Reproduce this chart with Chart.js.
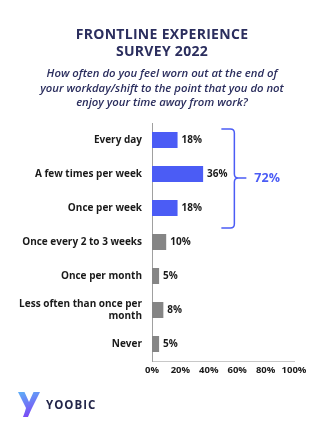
<!DOCTYPE html>
<html>
<head>
<meta charset="utf-8">
<script src="https://cdn.jsdelivr.net/npm/chart.js@4"></script>
<style>
  html, body { margin:0; padding:0; background:#fff; }
  body { width:336px; height:428px; position:relative; overflow:hidden; font-family:"Open Sans", sans-serif; }
  #c { position:absolute; left:0; top:0; }
  .title { position:absolute; left:0; width:324px; text-align:center; color:#2b2e5e; font-weight:700; font-size:14px; line-height:17px; top:25px; letter-spacing:0.3px; }
  .sub { position:absolute; left:0; width:324px; text-align:center; color:#2b2e5e; font-weight:600; font-style:italic; font-size:11.3px; line-height:14.5px; top:66px; }
  .logo { position:absolute; left:17px; top:391px; height:27px; }
  .logotext { position:absolute; left:46px; top:397px; font-weight:700; font-size:11.5px; color:#23264a; letter-spacing:1px; }
</style>
</head>
<body>
<canvas id="c" width="336" height="428"></canvas>
<div class="title">FRONTLINE EXPERIENCE<br>SURVEY 2022</div>
<div class="sub">How often do you feel worn out at the end of<br>your workday/shift to the point that you do not<br>enjoy your time away from work?</div>
<svg class="logo" width="24" height="27" viewBox="0 0 24 27">
  <defs><linearGradient id="g" x1="0" y1="0" x2="0.3" y2="1"><stop offset="0" stop-color="#5fb0f7"/><stop offset="1" stop-color="#7a4cf5"/></linearGradient></defs>
  <path d="M1 1 L7.5 1 L12 11 L16.5 1 L23 1 L15 17 Q13 21 11 26 L6 26 Q8 21 9 17 Z" fill="url(#g)"/>
</svg>
<div class="logotext">YOOBIC</div>
<script>
const categories = ["Every day", "A few times per week", "Once per week", "Once every 2 to 3 weeks", "Once per month", ["Less often than once per", "month"], "Never"];
const values = [18, 36, 18, 10, 5, 8, 5];
const barColors = ["#4b5cf5", "#4b5cf5", "#4b5cf5", "#858585", "#858585", "#858585", "#858585"];
const xTicks = [0, 20, 40, 60, 80, 100];
const bracketLabel = "72%";
const bracketRange = [0, 2];

const valueLabels = {
  id: 'valueLabels',
  afterDatasetsDraw(chart) {
    const ctx = chart.ctx;
    const meta = chart.getDatasetMeta(0);
    ctx.save();
    ctx.font = "700 10px 'Open Sans', sans-serif";
    ctx.fillStyle = "#1a1a1a";
    ctx.textBaseline = "middle";
    ctx.textAlign = "left";
    meta.data.forEach((bar, i) => {
      ctx.fillText(values[i] + "%", bar.x + 4, bar.y);
    });
    ctx.restore();
  }
};

const bracket = {
  id: 'bracket',
  afterDraw(chart) {
    const ctx = chart.ctx;
    const ys = chart.scales.y;
    const xs = chart.scales.x;
    const top = ys.getPixelForValue(bracketRange[0]) - 11;
    const bot = ys.getPixelForValue(bracketRange[1]) + 20;
    const mid = (ys.getPixelForValue(0) + ys.getPixelForValue(2)) / 2 + 4;
    const xv = xs.getPixelForValue(58);
    const r = 4;
    ctx.save();
    ctx.strokeStyle = "#4b5cf5";
    ctx.lineWidth = 1.5;
    ctx.beginPath();
    ctx.moveTo(xv - 13, top);
    ctx.lineTo(xv - r, top);
    ctx.quadraticCurveTo(xv, top, xv, top + r);
    ctx.lineTo(xv, mid - r);
    ctx.quadraticCurveTo(xv, mid, xv + r, mid);
    ctx.lineTo(xv + 12, mid);
    ctx.moveTo(xv + r, mid);
    ctx.quadraticCurveTo(xv, mid, xv, mid + r);
    ctx.lineTo(xv, bot - r);
    ctx.quadraticCurveTo(xv, bot, xv - r, bot);
    ctx.lineTo(xv - 13, bot);
    ctx.stroke();
    ctx.font = "700 12.5px 'Open Sans', sans-serif";
    ctx.fillStyle = "#4b5cf5";
    ctx.textBaseline = "middle";
    ctx.textAlign = "left";
    ctx.fillText(bracketLabel, xv + 20, mid);
    ctx.restore();
  }
};

new Chart(document.getElementById('c'), {
  type: 'bar',
  data: {
    labels: categories,
    datasets: [{
      data: values,
      backgroundColor: barColors,
      barPercentage: 0.94,
      categoryPercentage: 0.5
    }]
  },
  options: {
    indexAxis: 'y',
    responsive: false,
    animation: false,
    devicePixelRatio: 1,
    layout: { padding: { top: 123, left: 0, right: 42, bottom: 37 } },
    plugins: { legend: { display: false }, tooltip: { enabled: false } },
    scales: {
      x: {
        min: 0, max: 100,
        afterFit(s) { s.height = 30; },
        afterBuildTicks(s) { s.ticks = xTicks.map(v => ({ value: v })); },
        grid: { display: false, drawTicks: false },
        border: { display: true, color: "#c8c8c8", width: 1 },
        ticks: { padding: 4, maxRotation: 0, minRotation: 0, autoSkip: false, color: "#1a1a1a", font: { family: "'Open Sans', sans-serif", size: 9.5, weight: 700 }, callback: v => v + "%" }
      },
      y: {
        afterFit(s) { s.width = 152; },
        grid: { display: false, drawTicks: false },
        border: { display: true, color: "#a0a0a0", width: 1 },
        ticks: { padding: 10, color: "#1a1a1a", font: { family: "'Open Sans', sans-serif", size: 10, weight: 700, lineHeight: 1.25 } }
      }
    }
  },
  plugins: [valueLabels, bracket]
});
</script>
</body>
</html>
